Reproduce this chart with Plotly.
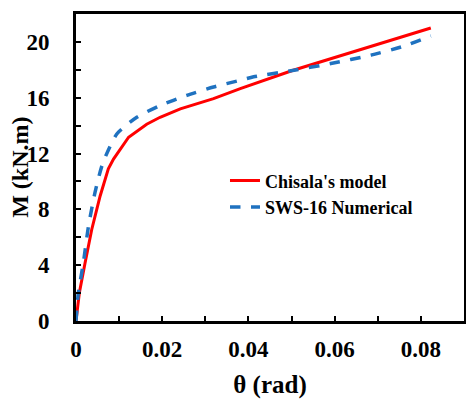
import plotly.graph_objects as go

# moment-rotation curves
theta_model = [0, 0.00077, 0.0021, 0.00365, 0.0056, 0.0075, 0.0087, 0.0122, 0.0164,
               0.0195, 0.0242, 0.0319, 0.0381, 0.0502, 0.0823]
m_model = [0, 2.0, 4.16, 6.56, 8.96, 10.9, 11.6, 13.17, 14.1,
           14.6, 15.2, 15.93, 16.65, 17.95, 21.0]

theta_num = [0, 0.00054, 0.0017, 0.0029, 0.0044, 0.0062, 0.00946, 0.0141, 0.0195,
             0.0257, 0.0319, 0.0381, 0.0412, 0.0502, 0.0591, 0.0684, 0.0761, 0.0823]
m_num = [0, 2.0, 4.16, 6.8, 9.2, 11.3, 13.4, 14.6, 15.44,
         16.17, 16.77, 17.25, 17.5, 17.95, 18.45, 19.05, 19.7, 20.43]

fnt = "Liberation Serif"

fig = go.Figure()
fig.add_trace(go.Scatter(x=theta_model, y=m_model, mode="lines", name="Chisala's model",
                         line=dict(color="#ff0000", width=3)))
fig.add_trace(go.Scatter(x=theta_num, y=m_num, mode="lines", name="SWS-16 Numerical",
                         line=dict(color="#1f72c0", width=3.5, dash="dash",
                                   shape="spline", smoothing=0.6)))

axis_common = dict(showline=True, linecolor="black", linewidth=3, mirror=True,
                   showgrid=False, zeroline=False, ticks="inside", ticklen=5,
                   tickwidth=1.5, tickcolor="black", automargin=False,
                   tickfont=dict(family=fnt, size=23, color="black", weight="bold"))

fig.update_xaxes(range=[0, 0.09], dtick=0.02, tickformat="~g", ticklabelstandoff=5,
                 minor=dict(dtick=0.01, ticks="inside", ticklen=5, tickwidth=1.5, tickcolor="black"),
                 title=dict(text="θ (rad)", font=dict(family=fnt, size=25, color="black", weight="bold"),
                            standoff=15),
                 **axis_common)
fig.update_yaxes(range=[0, 22], dtick=4, ticklabelstandoff=19,
                 minor=dict(dtick=2, ticks="inside", ticklen=5, tickwidth=1.5, tickcolor="black"),
                 **axis_common)

# y title as an annotation so it sits a bit further out than the axis title would
fig.add_annotation(text="M (kN.m)", textangle=-90, xref="paper", yref="paper",
                   x=-0.146, y=0.5, xanchor="center", yanchor="middle", showarrow=False,
                   font=dict(family=fnt, size=24, color="black", weight="bold"))

# page body keeps its 8px margin, so the figure is 8px smaller each way
fig.update_layout(
    width=466, height=392,
    margin=dict(l=68, r=10, t=6, b=79),
    plot_bgcolor="white", paper_bgcolor="white",
    legend=dict(x=0.384, y=0.414, xanchor="left", yanchor="middle",
                bgcolor="rgba(0,0,0,0)", itemwidth=30, tracegroupgap=0,
                font=dict(family=fnt, size=18, color="black", weight="bold")),
)

fig.write_html("out.html")
